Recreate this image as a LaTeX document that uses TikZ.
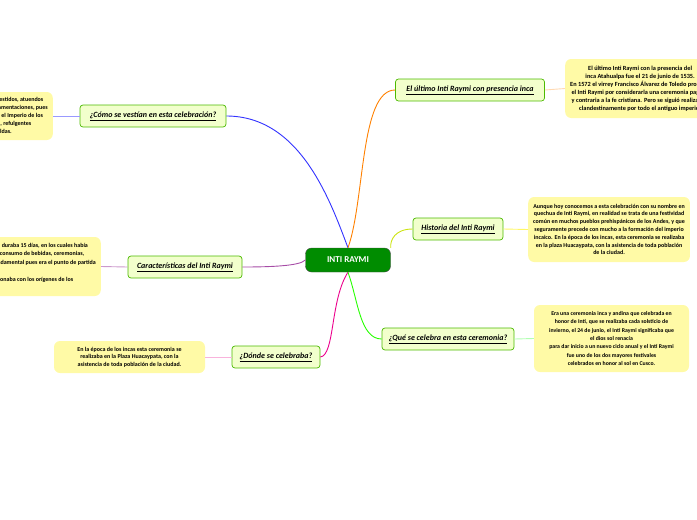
\documentclass[tikz,border=0pt]{standalone}
\usepackage{fontspec}
\setmainfont{Carlito}
\begin{document}
\begin{tikzpicture}[x=1pt,y=-1pt,
 br/.style={draw=green!55!black!60!lime,fill=green!25!yellow!20,rounded corners=3pt,line width=0.7pt,font=\fontsize{8}{9}\selectfont\bfseries\itshape,inner sep=3pt,minimum height=22pt},
 desc/.style={fill=yellow!35,rounded corners=6pt,font=\fontsize{6}{8}\selectfont\bfseries,align=center,inner sep=5pt},
 con/.style={line width=0.9pt}]
\useasboundingbox (0,0) rectangle (697,520);
\clip (0,0) rectangle (697,520);
\node[fill=green!55!black,draw=black!70,rounded corners=6pt,text=white,font=\fontsize{9}{10}\selectfont\bfseries,minimum width=85pt,minimum height=24pt] (c) at (348,260) {INTI RAYMI};
\node[br,minimum width=146pt] (b1) at (153,116) {\underline{¿Cómo se vestían en esta celebración?}};
\node[br,minimum width=114pt] (b2) at (185,267) {\underline{Características del Inti Raymi}};
\node[br,minimum width=88pt] (b3) at (276,357) {\underline{¿Dónde se celebraba?}};
\node[br,minimum width=149pt] (b4) at (470,90) {\underline{El último Inti Raymi con presencia inca}};
\node[br,minimum width=90pt] (b5) at (458,229) {\underline{Historia del Inti Raymi}};
\node[br,minimum width=132pt] (b6) at (448,339) {\underline{¿Qué se celebra en esta ceremonia?}};
\node[desc,anchor=east,minimum height=48pt,align=left,font=\fontsize{6}{8}\selectfont\bfseries] (d1) at (53,116) {Se utilizaban vestidos, atuendos\\y diversas ornamentaciones, pues\\representaban el Imperio de los\\incas, con oros, refulgentes\\plata y esmeraldas.};
\node[desc,anchor=east,minimum height=59pt,align=left,font=\fontsize{6}{8.6}\selectfont\bfseries] (d2) at (101,266.5) {La fiesta duraba 15 días, en los cuales había\\danzas, consumo de bebidas, ceremonias,\\muy fundamental pues era el punto de partida\\del\\se relacionaba con los orígenes de los\\incas.};
\node[desc,minimum width=151pt,minimum height=32pt,font=\fontsize{6}{7.6}\selectfont\bfseries] (d3) at (129.5,357) {En la época de los incas esta ceremonia se\\realizaba en la Plaza Huacaypata, con la\\asistencia de toda población de la ciudad.};
\node[desc,anchor=west,minimum height=59pt,font=\fontsize{6.3}{8}\selectfont\bfseries] (d4) at (565,88.5) {El último Inti Raymi con la presencia del\\inca Atahualpa fue el 21 de junio de 1535.\\En 1572 el virrey Francisco Álvarez de Toledo prohibió\\el Inti Raymi por considerarla una ceremonia pagana\\y contraria a la fe cristiana. Pero se siguió realizando\\clandestinamente por todo el antiguo imperio.};
\node[desc,anchor=west,minimum height=65pt,font=\fontsize{6}{7.8}\selectfont\bfseries] (d5) at (528,229.5) {Aunque hoy conocemos a esta celebración con su nombre en\\quechua de Inti Raymi, en realidad se trata de una festividad\\común en muchos pueblos prehispánicos de los Andes, y que\\seguramente precede con mucho a la formación del imperio\\incaico. En la época de los incas, esta ceremonia se realizaba\\en la plaza Huacaypata, con la asistencia de toda población\\de la ciudad.};
\node[desc,minimum width=155pt,minimum height=67pt,font=\fontsize{5.8}{8.3}\selectfont\bfseries] (d6) at (611.5,338.5) {Era una ceremonia inca y andina que celebrada en\\honor de Inti, que se realizaba cada solsticio de\\invierno, el 24 de junio, el Inti Raymi significaba que\\el dios sol renacía\\para dar inicio a un nuevo ciclo anual y el  Inti Raymi\\fue uno de los dos mayores festivales\\celebrados en honor al sol en Cusco.};
\draw[con,blue!80] (b1.east) .. controls (300,116) and (330,200) .. (c.north);
\draw[con,violet!70] (b2.east) .. controls (270,267) and (300,266) .. (c.west);
\draw[con,magenta] (b3.east) .. controls (335,355) and (330,300) .. (c.south);
\draw[con,orange] (c.north) .. controls (365,200) and (360,90) .. (b4.west);
\draw[con,yellow!80!green] (c.north east) .. controls (390,240) and (395,229) .. (b5.west);
\draw[con,green!80!lime] (c.south) .. controls (358,300) and (360,339) .. (b6.west);
\draw[con,blue!40] (d1.east) -- (b1.west);
\draw[con,violet!40] (d2.east) -- (b2.west);
\draw[con,magenta!30] (d3.east) -- (b3.west);
\draw[con,orange!30] (b4.east) -- (d4.west);
\draw[con,yellow!60] (b5.east) -- (d5.west);
\draw[con,green!30] (b6.east) -- (d6.west);
\end{tikzpicture}
\end{document}
